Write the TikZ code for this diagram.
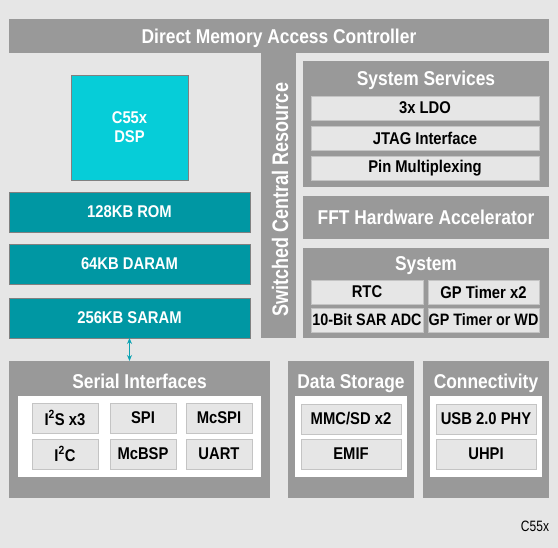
\documentclass[tikz,border=0pt]{standalone}
\usepackage{fontspec}
\setmainfont{Liberation Sans}[FakeStretch=0.87]
\newfontfamily\narrowfont{Liberation Sans}[FakeStretch=0.8]
\usetikzlibrary{arrows.meta}
\definecolor{bgc}{HTML}{E6E6E6}
\definecolor{blk}{HTML}{999999}
\definecolor{cellf}{HTML}{E6E6E6}
\definecolor{celld}{HTML}{C4C4C4}
\definecolor{dspc}{HTML}{06CDD8}
\definecolor{memc}{HTML}{0097A3}
\definecolor{edgec}{HTML}{808080}
\definecolor{arrc}{HTML}{0CA3B3}
\tikzset{
  box/.style args={#1/#2}{anchor=north west, inner sep=0pt, outer sep=0pt, minimum width=#1pt, minimum height=#2pt},
  graybox/.style={box=#1, fill=blk},
  whitebox/.style={box=#1, fill=white},
  cellbox/.style={box=#1, fill=cellf, draw=celld, line width=0.8pt, font=\bfseries\fontsize{17}{17}\selectfont, text=black},
  tightcell/.style={cellbox=#1, font=\bfseries\fontsize{16.5}{16.5}\selectfont},
  dspbox/.style={box=#1, fill=dspc, draw=edgec, line width=0.8pt, font=\bfseries\fontsize{17}{19}\selectfont, text=white, align=center},
  membox/.style={box=#1, fill=memc, draw=edgec, line width=0.8pt, font=\bfseries\fontsize{17}{17}\selectfont, text=white},
  titletext/.style={inner sep=0pt, anchor=base, font=\bfseries\fontsize{20}{20}\selectfont, text=white},
}
\begin{document}
\begin{tikzpicture}[x=1pt,y=-1pt]
\useasboundingbox (0,0) rectangle (558,548);
\fill[bgc] (0,0) rectangle (558,548);
% DMA and switched central resource
\node[graybox=540/34] (dma) at (9,19) {};
\node[titletext] (dmaT) at (279,44) {Direct Memory Access Controller};
\node[graybox=35/285] (scr) at (261,53) {};
\node[inner sep=0pt, anchor=base, rotate=90, font=\narrowfont\bfseries\fontsize{22.5}{22.5}\selectfont, text=white] (scrT) at (288,199.5) {Switched Central Resource};
% DSP and memories
\node[dspbox=117/105] (dsp) at (71,75) {C55x\\DSP};
\node[membox=241/40] (rom) at (9,192) {128KB ROM};
\node[membox=241/40] (daram) at (9,244) {64KB DARAM};
\node[membox=241/40] (saram) at (9,298) {256KB SARAM};
% System services
\node[graybox=246/126] (ss) at (303,61) {};
\node[titletext] (ssT) at (426,85.7) {System Services};
\node[cellbox=228/24] (ldo) at (311,96) {3x LDO};
\node[cellbox=228/24] (jtag) at (311,126) {JTAG Interface};
\node[cellbox=228/24] (pin) at (311,156) {Pin Multiplexing};
% FFT
\node[graybox=246/43] (fft) at (303,196) {};
\node[titletext] (fftT) at (426,225) {FFT Hardware Accelerator};
% System
\node[graybox=246/90] (sys) at (303,248) {};
\node[titletext] (sysT) at (426,270.7) {System};
\node[cellbox=112/24] (rtc) at (311,280) {RTC};
\node[cellbox=111/24] (gpt) at (428,280) {GP Timer x2};
\node[tightcell=112/24] (adc) at (311,308) {10-Bit SAR ADC};
\node[tightcell=111/24] (wd) at (428,308) {GP Timer or WD};
% Serial interfaces
\node[graybox=261/137] (ser) at (9,361) {};
\node[titletext] (serT) at (139.5,389) {Serial Interfaces};
\node[whitebox=243/81] (serW) at (18,396) {};
\node[cellbox=66/30] (i2s) at (32,403) {I\textsuperscript{2}S x3};
\node[cellbox=66/30] (spi) at (110,403) {SPI};
\node[cellbox=66/30] (mcspi) at (186,403) {McSPI};
\node[cellbox=66/30] (i2c) at (32,439) {I\textsuperscript{2}C};
\node[cellbox=66/30] (mcbsp) at (110,439) {McBSP};
\node[cellbox=66/30] (uart) at (186,439) {UART};
% Data storage
\node[graybox=126/137] (ds) at (288,361) {};
\node[titletext] (dsT) at (351,388.5) {Data Storage};
\node[whitebox=112/81] (dsW) at (295,396) {};
\node[cellbox=100/30] (mmc) at (301,404) {MMC/SD x2};
\node[cellbox=100/30] (emif) at (301,439) {EMIF};
% Connectivity
\node[graybox=126/137] (con) at (423,361) {};
\node[titletext] (conT) at (486,388.5) {Connectivity};
\node[whitebox=112/81] (conW) at (430,396) {};
\node[cellbox=100/30] (usb) at (436,404) {USB 2.0 PHY};
\node[cellbox=100/30] (uhpi) at (436,439) {UHPI};
% arrow
\draw[arrc, line width=1.4pt, {Stealth[length=6pt,width=5pt]}-{Stealth[length=6pt,width=5pt]}] (saram.south) -- (saram.south |- ser.north);
% label
\node[inner sep=0pt, anchor=base, font=\narrowfont\fontsize{15}{15}\selectfont, text=black] (lbl) at (535,531.5) {C55x};
\end{tikzpicture}
\end{document}
